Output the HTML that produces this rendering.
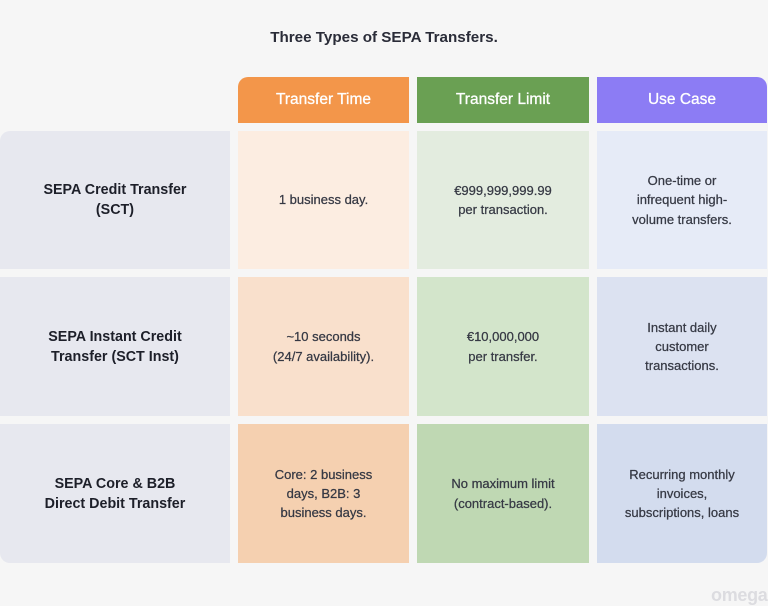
<!DOCTYPE html>
<html><head><meta charset="utf-8">
<style>
html,body{margin:0;padding:0;}
body{width:768px;height:604px;background:#f6f6f6;position:relative;overflow:hidden;font-family:"Liberation Sans",sans-serif;}
.c{position:absolute;display:flex;align-items:center;justify-content:center;text-align:center;box-sizing:border-box;}
.title{position:absolute;left:0;width:768px;top:29px;text-align:center;font-size:15.2px;font-weight:bold;color:#2a2c38;}
.h{top:77px;height:46px;color:#fff;font-size:15.5px;-webkit-text-stroke:0.3px #fff;}
.l{left:0;width:230px;background:#e7e8ef;font-weight:bold;font-size:14.3px;line-height:20px;color:#1d1f29;}
.t{font-size:13px;line-height:19.3px;color:#363944;-webkit-text-stroke:0.25px #363944;}
.o{left:238px;width:171px;}
.g{left:417px;width:172px;}
.p{left:597px;width:170px;}
.r1{top:131px;height:138px;}
.r2{top:277px;height:139px;}
.r3{top:424px;height:139px;}
.logo{position:absolute;left:711px;top:585px;font-size:18px;font-weight:bold;color:#dcdce0;letter-spacing:-0.3px;}
</style></head><body>
<div class="title">Three Types of SEPA Transfers.</div>

<div class="c h o" style="background:#f3964a;border-top-left-radius:10px;">Transfer Time</div>
<div class="c h g" style="background:#6aa053;">Transfer Limit</div>
<div class="c h p" style="background:#8c7cf4;border-top-right-radius:10px;">Use Case</div>

<div class="c l r1" style="border-top-left-radius:10px;">SEPA Credit Transfer<br>(SCT)</div>
<div class="c l r2">SEPA Instant Credit<br>Transfer (SCT Inst)</div>
<div class="c l r3" style="border-bottom-left-radius:10px;">SEPA Core &amp; B2B<br>Direct Debit Transfer</div>

<div class="c t o r1" style="background:#fcede1;">1 business day.</div>
<div class="c t o r2" style="background:#f9e0cc;">~10 seconds<br>(24/7 availability).</div>
<div class="c t o r3" style="background:#f5d0b0;">Core: 2 business<br>days, B2B: 3<br>business days.</div>

<div class="c t g r1" style="background:#e3ecdf;">€999,999,999.99<br>per transaction.</div>
<div class="c t g r2" style="background:#d3e5cb;">€10,000,000<br>per transfer.</div>
<div class="c t g r3" style="background:#bfd8b3;">No maximum limit<br>(contract-based).</div>

<div class="c t p r1" style="background:#e6ebf7;">One-time or<br>infrequent high-<br>volume transfers.</div>
<div class="c t p r2" style="background:#dce2f1;">Instant daily<br>customer<br>transactions.</div>
<div class="c t p r3" style="background:#d3dcee;border-bottom-right-radius:10px;">Recurring monthly<br>invoices,<br>subscriptions, loans</div>

<div class="logo">omega</div>
</body></html>
